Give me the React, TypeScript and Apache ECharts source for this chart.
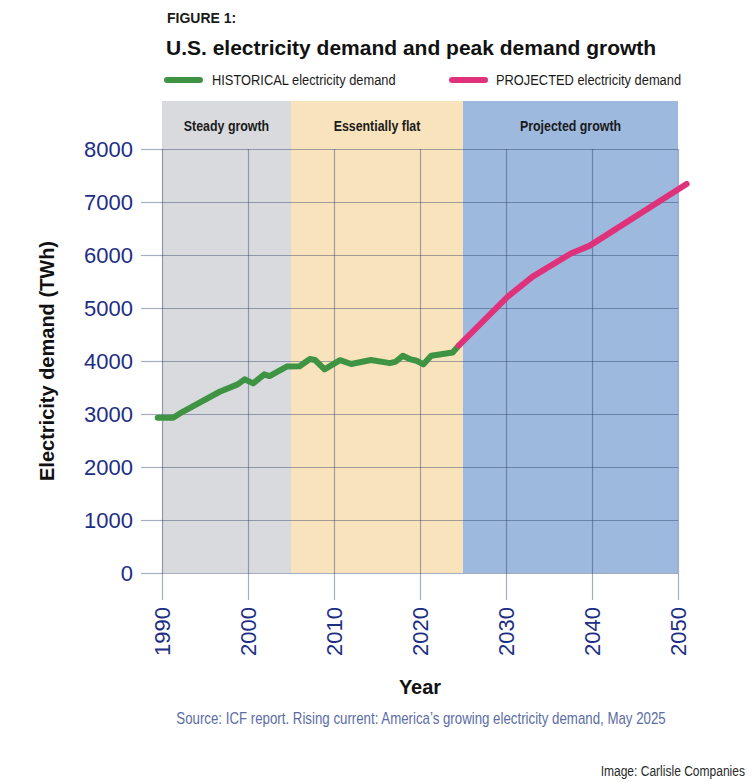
import React, { useEffect, useRef } from "react";
import * as echarts from "echarts";

const histYears = [1989.5, 1991.3, 1992.4, 1996.7, 1998.8, 1999.6, 2000.6, 2001.9, 2002.5, 2004.5, 2006.0, 2007.2, 2007.8, 2008.9, 2010.7, 2012.0, 2014.3, 2016.5, 2017.2, 2018.0, 2018.8, 2019.6, 2020.4, 2021.3, 2023.8, 2024.5];
const histValues = [2930, 2930, 3042, 3420, 3559, 3654, 3578, 3748, 3716, 3895, 3900, 4037, 4019, 3843, 4015, 3943, 4019, 3960, 3990, 4100, 4037, 4005, 3937, 4100, 4160, 4290];

const projYears = [2024.5, 2030.2, 2033.1, 2037.6, 2039.7, 2051.0];
const projValues = [4290, 5215, 5593, 6034, 6172, 7340];

const bandStarts = [1990, 2005, 2025];
const bandEnds = [2005, 2025, 2050];
const bandLabels = ["Steady growth", "Essentially flat", "Projected growth"];
const bandColors = ["#d9dadd", "#f9e3bc", "#9db9de"];

const yTicks = [0, 8000, 1000];
const xTicks = [1990, 2050, 10];
const xWide = [1980, 2060];

const SANS = "'Liberation Sans', Arial, Helvetica, sans-serif";
const GRID = "rgba(30,50,100,0.4)";
const NAVY = "#1d2e85";
const GREEN = "#3f9443";
const PINK = "#e0327a";
const NARROW_SCALE = 0.83;

export default function App() {
  const ref = useRef<HTMLDivElement>(null);
  useEffect(() => {
    if (!ref.current) return;
    const chart = echarts.init(ref.current, null, { renderer: "svg" });
    const hist = histYears.map((y, i) => [y, histValues[i]]);
    const proj = projYears.map((y, i) => [y, projValues[i]]);
    const bands = bandStarts.map((s, i) => [s, bandEnds[i], i]);
    const narrowText = (text: string, x: number, y: number, size: number, color: string, align = "left", weight = "normal") => ({
      type: "text",
      x,
      y,
      scaleX: NARROW_SCALE,
      silent: true,
      style: { text, fill: color, font: `${weight} ${size}px ${SANS}`, align, verticalAlign: "middle" },
    });
    chart.setOption({
      animation: false,
      backgroundColor: "#ffffff",
      title: [
        { text: "FIGURE 1:", left: 162, top: 6, textStyle: { fontFamily: SANS, fontWeight: "bold", fontSize: 14, color: "#1a1a1a" } },
        { text: "U.S. electricity demand and peak demand growth", left: 161, top: 32, textStyle: { fontFamily: SANS, fontWeight: "bold", fontSize: 21, color: "#111111" } },
      ],
      graphic: [
        { type: "line", silent: true, shape: { x1: 167, y1: 80, x2: 200, y2: 80 }, style: { stroke: GREEN, lineWidth: 6, lineCap: "round" } },
        narrowText("HISTORICAL electricity demand", 212, 80, 15.5, "#1a1a1a"),
        { type: "line", silent: true, shape: { x1: 452, y1: 80, x2: 485, y2: 80 }, style: { stroke: PINK, lineWidth: 6, lineCap: "round" } },
        narrowText("PROJECTED electricity demand", 496, 80, 15.5, "#1a1a1a"),
        narrowText("Source: ICF report. Rising current: America\u2019s growing electricity demand, May 2025", 421, 719, 16, "#5a6da5", "center"),
        narrowText("Image: Carlisle Companies", 745, 771, 14.5, "#2a2a2a", "right"),
      ],
      grid: [
        { left: 162, right: 72, top: 149, bottom: 209, containLabel: false, outerBoundsMode: "none" },
        { left: 76, width: 688, top: 149, bottom: 209, containLabel: false, outerBoundsMode: "none" },
      ],
      xAxis: [
        {
          type: "value",
          gridIndex: 0,
          min: xTicks[0],
          max: xTicks[1],
          interval: xTicks[2],
          name: "Year",
          nameLocation: "middle",
          nameGap: 104,
          nameTextStyle: { fontFamily: SANS, fontWeight: "bold", fontSize: 20, color: "#111111", verticalAlign: "top" },
          axisLine: { show: false },
          axisTick: { show: true, length: 27, lineStyle: { color: GRID, width: 1.2 } },
          splitLine: { show: true, lineStyle: { color: GRID, width: 1.2 } },
          axisLabel: { rotate: 90, margin: 34, fontSize: 22, color: NAVY, fontFamily: SANS, formatter: (v: number) => String(v) },
        },
        { type: "value", gridIndex: 1, min: xWide[0], max: xWide[1], show: false },
      ],
      yAxis: [
        {
          type: "value",
          gridIndex: 0,
          min: yTicks[0],
          max: yTicks[1],
          interval: yTicks[2],
          name: "Electricity demand (TWh)",
          nameLocation: "middle",
          nameGap: 105,
          nameTextStyle: { fontFamily: SANS, fontWeight: "bold", fontSize: 20, color: "#111111" },
          axisLine: { show: false },
          axisTick: { show: true, length: 21, lineStyle: { color: GRID, width: 1.2 } },
          splitLine: { show: true, lineStyle: { color: GRID, width: 1.2 } },
          axisLabel: { margin: 29, fontSize: 22, color: NAVY, fontFamily: SANS, formatter: (v: number) => String(v) },
        },
        { type: "value", gridIndex: 1, min: yTicks[0], max: yTicks[1], show: false },
      ],
      series: [
        {
          type: "custom",
          name: "bands",
          silent: true,
          z: -1,
          clip: false,
          xAxisIndex: 0,
          yAxisIndex: 0,
          encode: { x: [0, 1], y: -1 },
          data: bands,
          renderItem: (params: any, api: any) => {
            const i = api.value(2);
            const p0 = api.coord([api.value(0), yTicks[1]]);
            const p1 = api.coord([api.value(1), yTicks[0]]);
            const head = 48;
            return {
              type: "group",
              children: [
                {
                  type: "rect",
                  shape: { x: p0[0], y: p0[1] - head, width: p1[0] - p0[0], height: p1[1] - p0[1] + head },
                  style: { fill: bandColors[i] },
                },
                {
                  type: "text",
                  x: (p0[0] + p1[0]) / 2,
                  y: p0[1] - head / 2,
                  scaleX: 0.8,
                  style: { text: bandLabels[i], fill: "#1a1a1a", font: `bold 15.5px ${SANS}`, align: "center", verticalAlign: "middle" },
                },
              ],
            };
          },
        },
        {
          type: "line",
          name: "HISTORICAL electricity demand",
          xAxisIndex: 1,
          yAxisIndex: 1,
          data: hist,
          showSymbol: false,
          clip: false,
          z: 3,
          color: GREEN,
          lineStyle: { color: GREEN, width: 6, cap: "round", join: "round" },
        },
        {
          type: "line",
          name: "PROJECTED electricity demand",
          xAxisIndex: 1,
          yAxisIndex: 1,
          data: proj,
          showSymbol: false,
          clip: false,
          z: 4,
          color: PINK,
          lineStyle: { color: PINK, width: 6, cap: "round", join: "round" },
        },
      ],
    });
    return () => chart.dispose();
  }, []);
  return <div ref={ref} style={{ position: "absolute", left: 0, top: 0, width: 750, height: 782 }} />;
}
